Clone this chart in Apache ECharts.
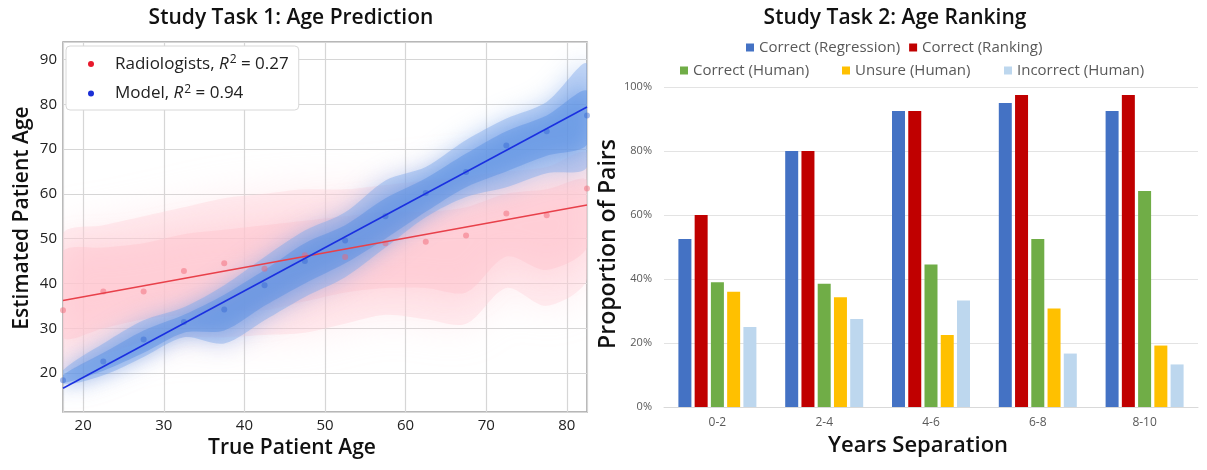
<!DOCTYPE html>
<html>
<head>
<meta charset="utf-8">
<script src="https://cdn.jsdelivr.net/npm/echarts@6/dist/echarts.min.js"></script>
<style>
  html, body { margin: 0; padding: 0; background: #fff; }
  #main { width: 1207px; height: 470px; }
</style>
</head>
<body>
<div id="main"></div>
<script>
// 左图：年龄预测（分箱中心）
var ageBins = [17.5, 22.5, 27.5, 32.5, 37.5, 42.5, 47.5, 52.5, 57.5, 62.5, 67.5, 72.5, 77.5, 82.5];
var radiologistAges = [34.0, 38.2, 38.2, 42.8, 44.5, 43.3, 46.3, 45.9, 49.0, 49.3, 50.7, 55.6, 55.2, 61.2];
var modelAges = [18.4, 22.6, 27.5, 31.4, 34.2, 39.6, 45.0, 49.6, 55.0, 60.2, 64.9, 70.8, 74.0, 77.5];
// 回归线两端
var radiologistFit = [[17.5, 36.2], [82.5, 57.5]];
var modelFit = [[17.5, 16.6], [82.5, 79.4]];
// 置信带（外层 / 内层）
var radOuterLow  = [21, 24, 27, 28, 28, 28.5, 29, 31, 33, 32, 31, 39, 35, 41];
var radOuterHigh = [51, 53, 55, 57, 59, 60, 61, 61, 62, 63, 64, 65, 66, 69];
var radInnerLow  = [28, 30, 32, 33, 34, 34, 36, 38, 39, 39, 38, 46, 43, 48];
var radInnerHigh = [47, 48, 49, 51, 52, 53, 54, 55, 56, 56, 57, 60, 61, 63];
var modOuterLow  = [17.5, 19.5, 23.6, 28, 26.6, 31.8, 37, 41.4, 48, 54.8, 59.3, 61.5, 64.6, 66];
var modOuterHigh = [20.6, 26.6, 31.8, 34.7, 39.6, 45.9, 51.8, 55.9, 63, 66, 72, 76.8, 80.5, 89];
var modInnerLow  = [17.8, 20.5, 24.5, 29, 29.5, 35, 40, 44.5, 50, 56, 61.5, 65, 68.5, 71];
var modInnerHigh = [19.5, 24.5, 29.5, 33, 37.5, 43, 49, 53, 59, 63.5, 69, 74, 77.5, 83];

// 右图：年龄排序
var separations = ['0-2', '2-4', '4-6', '6-8', '8-10'];
var correctRegression = [52.5, 80, 92.5, 95, 92.5];
var correctRanking = [60, 80, 92.5, 97.5, 97.5];
var correctHuman = [39, 38.5, 44.5, 52.5, 67.5];
var unsureHuman = [36, 34.3, 22.5, 30.8, 19.2];
var incorrectHuman = [25, 27.5, 33.3, 16.7, 13.3];
var percentTicks = [0, 20, 40, 60, 80, 100];

var FONT = 'Open Sans';
var myChart = echarts.init(document.getElementById('main'));

// 用多边形画置信带，shadowBlur 让边缘变虚
function band(low, high, fill, glow, blur, z) {
  return {
    type: 'custom',
    xAxisIndex: 0,
    yAxisIndex: 0,
    silent: true,
    clip: true,
    z: z,
    data: ageBins.map(function (x, i) { return [x, low[i], high[i]]; }),
    renderItem: function (params, api) {
      if (params.dataIndex !== 0) return;
      var pts = [];
      for (var i = 0; i < ageBins.length; i++) pts.push(api.coord([ageBins[i], high[i]]));
      for (var j = ageBins.length - 1; j >= 0; j--) pts.push(api.coord([ageBins[j], low[j]]));
      return {
        type: 'polygon',
        shape: { points: pts, smooth: 0.3 },
        style: { fill: fill, shadowBlur: blur, shadowColor: glow }
      };
    }
  };
}

function bar(name, data, color) {
  return {
    name: name,
    type: 'bar',
    xAxisIndex: 1,
    yAxisIndex: 1,
    data: data,
    barWidth: 13,
    barGap: '25%',
    itemStyle: { color: color }
  };
}

function rowLegend(names, left, top) {
  return {
    data: names,
    left: left,
    top: top,
    padding: 0,
    itemGap: 9,
    icon: 'rect',
    itemWidth: 8,
    itemHeight: 8,
    textStyle: { fontFamily: FONT, fontSize: 15, color: '#595959' }
  };
}

var edgeLabel = function (v) { return Math.abs(v % 10) < 1e-6 ? v : ''; };

myChart.setOption({
  animation: false,
  title: [
    {
      text: 'Study Task 1: Age Prediction',
      left: 286, top: 3, textAlign: 'center',
      textStyle: { fontFamily: FONT, fontSize: 21, fontWeight: 600, color: '#111' }
    },
    {
      text: 'Study Task 2: Age Ranking',
      left: 890, top: 3, textAlign: 'center',
      textStyle: { fontFamily: FONT, fontSize: 21, fontWeight: 600, color: '#111' }
    }
  ],
  legend: [
    {
      data: [
        { name: 'Radiologists', itemStyle: { color: '#e8192c', opacity: 1 } },
        { name: 'Model', itemStyle: { color: '#1b2fd6', opacity: 1 } }
      ],
      orient: 'vertical',
      left: 66, top: 46,
      padding: [8, 10, 8, 22],
      itemGap: 11,
      icon: 'circle',
      itemWidth: 6, itemHeight: 6,
      backgroundColor: '#fff',
      borderColor: '#d8d8d8',
      borderWidth: 1,
      borderRadius: 4,
      formatter: function (name) {
        var r = name === 'Radiologists' ? '0.27' : '0.94';
        return '{t|' + name + ', }{i|R}{s|2}{t| = ' + r + '}';
      },
      textStyle: {
        fontFamily: FONT, fontSize: 17, color: '#222', padding: [0, 0, 0, 16],
        rich: {
          t: { fontFamily: FONT, fontSize: 17, color: '#222' },
          i: { fontFamily: FONT, fontSize: 17, fontStyle: 'italic', color: '#222' },
          s: { fontFamily: FONT, fontSize: 12, color: '#222', verticalAlign: 'top', padding: [0, 0, 8, 1] }
        }
      }
    },
    rowLegend(['Correct (Regression)', 'Correct (Ranking)'], 746, 40),
    rowLegend(['Correct (Human)'], 680, 63),
    rowLegend(['Unsure (Human)'], 842, 63),
    rowLegend(['Incorrect (Human)'], 1004, 63)
  ],
  grid: [
    { left: 63, top: 42, width: 524, height: 370, show: true, borderColor: '#a0a0a0', borderWidth: 1.5, backgroundColor: '#fff' },
    { left: 664, top: 87, width: 534, height: 320 }
  ],
  xAxis: [
    {
      type: 'value', gridIndex: 0, min: 17.5, max: 82.5, splitNumber: 7,
      name: 'True Patient Age', nameLocation: 'middle', nameGap: 23,
      nameTextStyle: { fontFamily: FONT, fontSize: 21, fontWeight: 600, color: '#111', padding: [0, 66, 0, 0] },
      axisLine: { show: false }, axisTick: { show: false },
      axisLabel: { fontFamily: FONT, fontSize: 15, color: '#222', margin: 6, formatter: edgeLabel },
      splitLine: { lineStyle: { color: '#d6d6d6', width: 1.2 } }
    },
    {
      type: 'category', gridIndex: 1, data: separations,
      name: 'Years Separation', nameLocation: 'middle', nameGap: 28,
      nameTextStyle: { fontFamily: FONT, fontSize: 22, fontWeight: 600, color: '#111', padding: [0, 26, 0, 0] },
      axisLine: { lineStyle: { color: '#d9d9d9' } }, axisTick: { show: false },
      axisLabel: { fontFamily: FONT, fontSize: 12, color: '#595959', margin: 10 }
    }
  ],
  yAxis: [
    {
      type: 'value', gridIndex: 0, min: 11.3, max: 93.9, splitNumber: 8,
      name: 'Estimated Patient Age', nameLocation: 'middle', nameGap: 30,
      nameTextStyle: { fontFamily: FONT, fontSize: 21, fontWeight: 600, color: '#111', padding: [0, 0, 0, 18] },
      axisLine: { show: false }, axisTick: { show: false },
      axisLabel: { fontFamily: FONT, fontSize: 15, color: '#222', margin: 6, formatter: edgeLabel },
      splitLine: { lineStyle: { color: '#d6d6d6', width: 1.2 } }
    },
    {
      type: 'value', gridIndex: 1, min: percentTicks[0], max: percentTicks[percentTicks.length - 1], interval: 20,
      name: 'Proportion of Pairs', nameLocation: 'middle', nameGap: 41,
      nameTextStyle: { fontFamily: FONT, fontSize: 23, fontWeight: 600, color: '#111', padding: [0, 0, 0, 6] },
      axisLine: { show: false }, axisTick: { show: false },
      axisLabel: { fontFamily: FONT, fontSize: 11, color: '#595959', margin: 12, formatter: '{value}%' },
      splitLine: { lineStyle: { color: '#e3e3e3' } }
    }
  ],
  series: [
    band(radOuterLow, radOuterHigh, 'rgba(255,205,214,0.35)', 'rgb(255,205,214)', 40, 1),
    band(radInnerLow, radInnerHigh, 'rgba(255,195,205,0.4)', 'rgb(255,195,205)', 30, 2),
    band(modOuterLow, modOuterHigh, 'rgba(130,170,235,0.45)', 'rgb(130,170,235)', 24, 3),
    band(modInnerLow, modInnerHigh, 'rgba(80,138,225,0.4)', 'rgb(80,138,225)', 18, 4),
    {
      name: 'Radiologists', type: 'scatter', xAxisIndex: 0, yAxisIndex: 0, z: 5,
      symbolSize: 6, itemStyle: { color: 'rgba(240,100,115,0.6)' },
      data: ageBins.map(function (x, i) { return [x, radiologistAges[i]]; })
    },
    {
      name: 'Model', type: 'scatter', xAxisIndex: 0, yAxisIndex: 0, z: 5,
      symbolSize: 6, itemStyle: { color: 'rgba(50,100,210,0.55)' },
      data: ageBins.map(function (x, i) { return [x, modelAges[i]]; })
    },
    {
      type: 'line', xAxisIndex: 0, yAxisIndex: 0, z: 6, silent: true, showSymbol: false,
      data: radiologistFit, lineStyle: { color: '#e8404a', width: 1.6 }
    },
    {
      type: 'line', xAxisIndex: 0, yAxisIndex: 0, z: 6, silent: true, showSymbol: false,
      data: modelFit, lineStyle: { color: '#1a30e0', width: 1.6 }
    },
    bar('Correct (Regression)', correctRegression, '#4472C4'),
    bar('Correct (Ranking)', correctRanking, '#C00000'),
    bar('Correct (Human)', correctHuman, '#70AD47'),
    bar('Unsure (Human)', unsureHuman, '#FFC000'),
    bar('Incorrect (Human)', incorrectHuman, '#BDD7EE')
  ]
});

let resizeObserver = new ResizeObserver(() => myChart?.resize());
resizeObserver.observe(document.getElementById('main'));
</script>
</body>
</html>
